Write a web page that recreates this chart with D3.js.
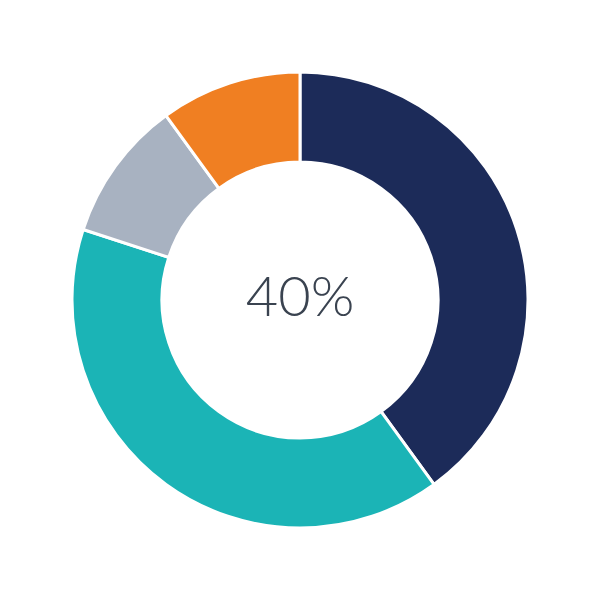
<!DOCTYPE html>
<html>
<head>
<meta charset="utf-8">
<script src="https://d3js.org/d3.v7.min.js"></script>
<style>
  body { margin: 0; background: #fff; }
</style>
</head>
<body>
<div id="chart"></div>
<script>
// slice data, clockwise from 12 o'clock
var labels = ["A", "B", "C", "D"];
var values = [40, 40, 10, 10];
var colors = ["#1c2b59", "#1bb4b6", "#a8b2c1", "#f07f22"];
var centerLabel = "40%";

var width = 600, height = 600;

var svg = d3.select("#chart").append("svg")
  .attr("width", width)
  .attr("height", height)
  .append("g")
  .attr("transform", "translate(300,300)");

var pieData = d3.pie()
  .sort(null)
  .value(function(d, i) { return values[i]; })(labels);

var arc = d3.arc()
  .innerRadius(138)
  .outerRadius(228);

svg.selectAll("path")
  .data(pieData)
  .enter()
  .append("path")
  .attr("d", arc)
  .attr("fill", function(d, i) { return colors[i]; })
  .attr("stroke", "#fff")
  .attr("stroke-width", 3);

// centre text
svg.append("text")
  .attr("x", 0)
  .attr("y", 16)
  .attr("text-anchor", "middle")
  .style("font-family", "Lato, 'Open Sans', sans-serif")
  .style("font-weight", 300)
  .style("font-size", "56px")
  .style("fill", "#3a4350")
  .text(centerLabel);
</script>
</body>
</html>
